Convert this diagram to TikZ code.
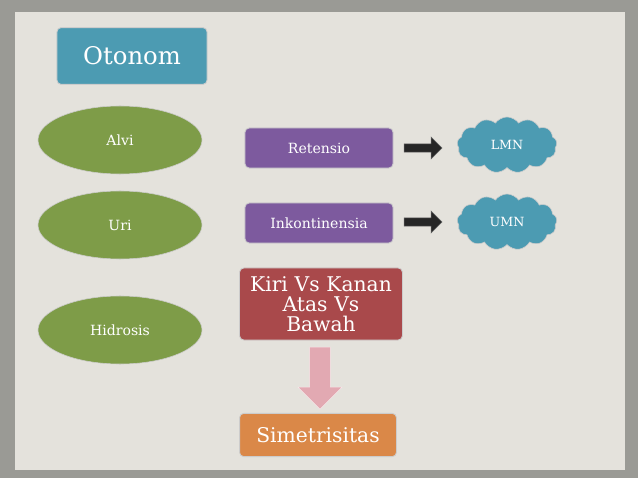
\documentclass[tikz,border=0pt]{standalone}
\usepackage{fontspec}
\setmainfont{DejaVu Serif}
\usetikzlibrary{shapes.geometric,shapes.symbols,shapes.arrows}
\definecolor{paper}{HTML}{E4E2DC}
\definecolor{frame}{HTML}{9A9A95}
\definecolor{teal}{HTML}{4C9BB2}
\definecolor{olive}{HTML}{7E9C48}
\definecolor{plum}{HTML}{7D5A9E}
\definecolor{brick}{HTML}{A9494B}
\definecolor{salmon}{HTML}{DA8848}
\definecolor{rose}{HTML}{E2A9B2}
\tikzset{
    box/.style={rounded corners=3pt, text=white, draw=white!80!black, line width=.6pt},
    oval/.style={ellipse, fill=olive, text=white, draw=white!80!black,
        minimum width=4.1cm, minimum height=1.7cm},
    puff/.style={cloud, cloud puffs=13, cloud puff arc=110, aspect=1.8, fill=teal,
        text=white, draw=white!80!black, inner sep=0pt,
        minimum width=2.5cm, minimum height=1.4cm, font=\small},
    blk/.style={single arrow, fill=black!85, draw=black!60, minimum height=.95cm,
        single arrow head extend=2pt, minimum width=.55cm, inner sep=1pt}
}
\begin{document}
\begin{tikzpicture}[x=0.025cm,y=-0.025cm]

    \useasboundingbox (0,0) rectangle (638,478);
    \fill[frame] (0,0) rectangle (638,478);
    \fill[paper] (15,12) rectangle (625,470);

    \node [box, fill=teal, minimum width=3.75cm, minimum height=1.42cm,
        font=\LARGE] (otonom) at (132,56) {Otonom};

    \node [oval] (alvi) at (120,140) {Alvi};
    \node [oval] (uri) at (120,225) {Uri};
    \node [oval] (hidrosis) at (120,330) {Hidrosis};

    \node [box, fill=plum, minimum width=3.7cm, minimum height=1cm]
        (retensio) at (319,148) {Retensio};
    \node [box, fill=plum, minimum width=3.7cm, minimum height=1cm]
        (inkon) at (319,223) {Inkontinensia};

    \node [box, fill=brick, minimum width=4.07cm, minimum height=1.8cm,
        font=\Large\linespread{0.8}\selectfont, align=center, inner sep=1pt, text width=4cm]
        (kiri) at (321,304) {Kiri Vs Kanan\\Atas Vs\\Bawah};

    \node [box, fill=salmon, minimum width=3.92cm, minimum height=1.08cm,
        font=\Large] (sime) at (318,435) {Simetrisitas};

    \node [single arrow, shape border rotate=270, fill=rose, draw=white!70!rose,
        minimum height=1.55cm, minimum width=1.1cm, single arrow head extend=4pt]
        (turun) at (320,373) {};

    \node [blk] (panah1) at (421,148) {};
    \node [blk] (panah2) at (421,222) {};

    \node [puff] (lmn) at (507,145) {LMN};
    \node [puff] (umn) at (507,222) {UMN};

\end{tikzpicture}
\end{document}
